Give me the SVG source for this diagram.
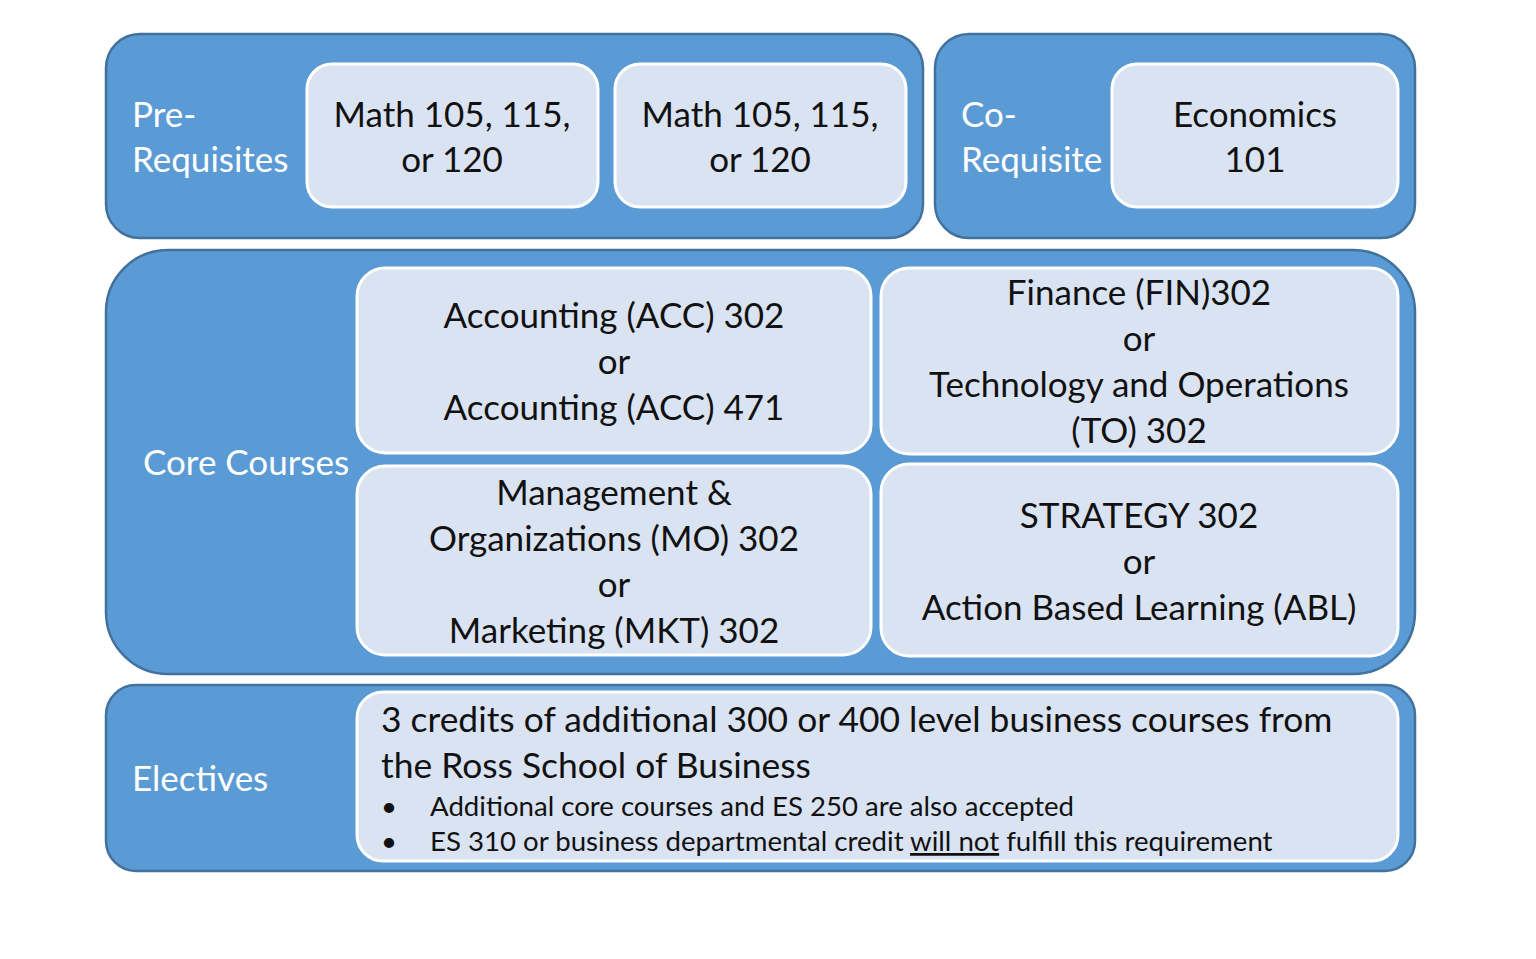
<svg xmlns="http://www.w3.org/2000/svg" width="1536" height="959" viewBox="0 0 1536 959">
<style>
.outer{fill:#5b9bd5;stroke:#41719c;stroke-width:2.5}
.inner{fill:#dae3f2;stroke:#ffffff;stroke-width:3}
.lbl{font-family:Lato,"Liberation Sans",sans-serif;font-size:35px;fill:#ffffff}
.t{font-family:Lato,"Liberation Sans",sans-serif;font-size:35px;fill:#111111;text-anchor:middle}
.e{font-family:Lato,"Liberation Sans",sans-serif;font-size:35.4px;fill:#111111}
.b{font-family:Lato,"Liberation Sans",sans-serif;font-size:27.6px;fill:#111111}
</style>
<rect width="1536" height="959" fill="#ffffff"/>
<g id="prereq">
<rect class="outer" x="106" y="34" width="817" height="204" rx="34"/>
<text class="lbl" x="132" y="127">Pre-</text>
<text class="lbl" x="132" y="172">Requisites</text>
</g>
<g id="math1">
<rect class="inner" x="307" y="64" width="291" height="143" rx="25"/>
<text class="t" x="452" y="127">Math 105, 115,</text>
<text class="t" x="452" y="172">or 120</text>
</g>
<g id="math2">
<rect class="inner" x="615" y="64" width="291" height="143" rx="25"/>
<text class="t" x="760" y="127">Math 105, 115,</text>
<text class="t" x="760" y="172">or 120</text>
</g>
<g id="coreq">
<rect class="outer" x="935" y="34" width="480" height="204" rx="34"/>
<text class="lbl" x="961" y="127">Co-</text>
<text class="lbl" x="961" y="172">Requisite</text>
</g>
<g id="econ">
<rect class="inner" x="1112" y="64" width="286" height="143" rx="25"/>
<text class="t" x="1255" y="127">Economics</text>
<text class="t" x="1255" y="172">101</text>
</g>
<g id="core">
<rect class="outer" x="106" y="250" width="1309" height="424" rx="62"/>
<text class="lbl" x="143" y="475">Core Courses</text>
</g>
<g id="acc">
<rect class="inner" x="357" y="268" width="514" height="185" rx="28"/>
<text class="t" x="614" y="328">Accounting (ACC) 302</text>
<text class="t" x="614" y="374">or</text>
<text class="t" x="614" y="420">Accounting (ACC) 471</text>
</g>
<g id="fin">
<rect class="inner" x="881" y="268" width="517" height="186" rx="28"/>
<text class="t" x="1139" y="305">Finance (FIN)302</text>
<text class="t" x="1139" y="351">or</text>
<text class="t" x="1139" y="397">Technology and Operations</text>
<text class="t" x="1139" y="443">(TO) 302</text>
</g>
<g id="mo">
<rect class="inner" x="357" y="466" width="514" height="189" rx="28"/>
<text class="t" x="614" y="505">Management &amp;</text>
<text class="t" x="614" y="551">Organizations (MO) 302</text>
<text class="t" x="614" y="597">or</text>
<text class="t" x="614" y="643">Marketing (MKT) 302</text>
</g>
<g id="strategy">
<rect class="inner" x="881" y="464" width="517" height="192" rx="28"/>
<text class="t" x="1139" y="528">STRATEGY 302</text>
<text class="t" x="1139" y="574">or</text>
<text class="t" x="1139" y="620">Action Based Learning (ABL)</text>
</g>
<g id="electives">
<rect class="outer" x="106" y="685" width="1309" height="186" rx="30"/>
<text class="lbl" x="132" y="791">Electives</text>
</g>
<g id="electives-text">
<rect class="inner" x="357" y="692" width="1041" height="169" rx="26"/>
<text class="e" x="381" y="732">3 credits of additional 300 or 400 level business courses from</text>
<text class="e" x="381" y="778">the Ross School of Business</text>
<text class="b" x="381" y="816">•</text>
<text class="b" x="430" y="816">Additional core courses and ES 250 are also accepted</text>
<text class="b" x="381" y="851">•</text>
<text class="b" x="430" y="851">ES 310 or business departmental credit <tspan text-decoration="underline">will not</tspan> fulfill this requirement</text>
</g>
<g id="connectors"></g>
</svg>
